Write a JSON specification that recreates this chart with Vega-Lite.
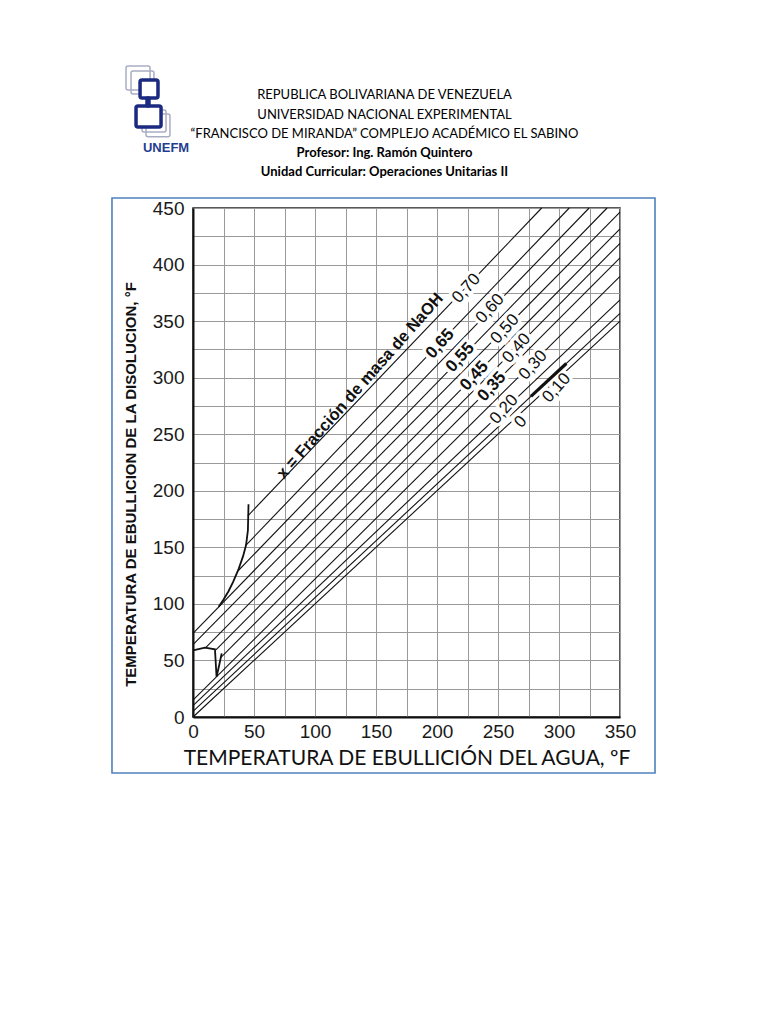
{
  "$schema": "https://vega.github.io/schema/vega-lite/v6.json",
  "width": 427,
  "height": 509,
  "autosize": {"type": "none"},
  "padding": {"left": 193, "top": 208, "right": 148, "bottom": 307},
  "background": "white",
  "config": {"view": {"stroke": "#222", "strokeWidth": 1.5}},
  "title": {
    "text": ["REPUBLICA BOLIVARIANA DE VENEZUELA", "UNIVERSIDAD NACIONAL  EXPERIMENTAL", "“FRANCISCO DE MIRANDA” COMPLEJO ACADÉMICO EL SABINO"],
    "subtitle": ["Profesor: Ing. Ramón Quintero", "Unidad Curricular: Operaciones Unitarias II"],
    "anchor": "middle",
    "frame": "group",
    "dx": -22,
    "offset": -114,
    "font": "Lato",
    "fontSize": 13,
    "fontWeight": "normal",
    "color": "#000",
    "lineHeight": 19.3,
    "subtitleFont": "Lato",
    "subtitleFontSize": 13,
    "subtitleFontWeight": "bold",
    "subtitleColor": "#000",
    "subtitleLineHeight": 19.3,
    "subtitlePadding": 6
  },
  "datasets": {
    "lineas": [
      {"serie": "0", "x": 0, "y": 0}, {"serie": "0", "x": 350, "y": 350},
      {"serie": "0,10", "x": 0, "y": 5}, {"serie": "0,10", "x": 350, "y": 356.8},
      {"serie": "0,20", "x": 0, "y": 10}, {"serie": "0,20", "x": 350, "y": 368.8},
      {"serie": "0,30", "x": 0, "y": 15}, {"serie": "0,30", "x": 350, "y": 389.5},
      {"serie": "0,35", "x": 22.7, "y": 52.5}, {"serie": "0,35", "x": 350, "y": 406},
      {"serie": "0,40", "x": 18.8, "y": 59.4}, {"serie": "0,40", "x": 350, "y": 418.8},
      {"serie": "0,45", "x": 10, "y": 60.9}, {"serie": "0,45", "x": 350, "y": 431.5},
      {"serie": "0,50", "x": 0, "y": 64}, {"serie": "0,50", "x": 350, "y": 446.3},
      {"serie": "0,55", "x": 0, "y": 74}, {"serie": "0,55", "x": 339.4, "y": 450},
      {"serie": "0,60", "x": 37, "y": 129.3}, {"serie": "0,60", "x": 324.7, "y": 450},
      {"serie": "0,65", "x": 43.5, "y": 152}, {"serie": "0,65", "x": 308.4, "y": 450},
      {"serie": "0,70", "x": 45, "y": 177.9}, {"serie": "0,70", "x": 285.8, "y": 450}
    ],
    "curvas": [
      {"curva": "superior", "x": 21, "y": 97.5},
      {"curva": "superior", "x": 24.8, "y": 103.4},
      {"curva": "superior", "x": 29, "y": 111},
      {"curva": "superior", "x": 33, "y": 119.6},
      {"curva": "superior", "x": 37.1, "y": 130},
      {"curva": "superior", "x": 41, "y": 142},
      {"curva": "superior", "x": 43.5, "y": 152},
      {"curva": "superior", "x": 45, "y": 165},
      {"curva": "superior", "x": 45.3, "y": 179},
      {"curva": "superior", "x": 45.5, "y": 188},
      {"curva": "inferior", "x": 0, "y": 59},
      {"curva": "inferior", "x": 9.8, "y": 61.3},
      {"curva": "inferior", "x": 18, "y": 59.9},
      {"curva": "inferior", "x": 23.5, "y": 56.3},
      {"curva": "inferior", "x": 21.5, "y": 46},
      {"curva": "inferior", "x": 19.3, "y": 35.6}
    ],
    "resaltado": [
      {"serie": "0,10", "x": 277, "y": 283.4},
      {"serie": "0,10", "x": 306, "y": 312.5}
    ],
    "etiquetas": [
      {"label": "0,70", "x": 224, "y": 379},
      {"label": "0,60", "x": 243.5, "y": 361},
      {"label": "0,50", "x": 255.7, "y": 343},
      {"label": "0,40", "x": 265.3, "y": 326},
      {"label": "0,30", "x": 278.7, "y": 311},
      {"label": "0,65", "x": 202.5, "y": 330},
      {"label": "0,55", "x": 219, "y": 318},
      {"label": "0,45", "x": 230.6, "y": 301.5},
      {"label": "0,35", "x": 245, "y": 292},
      {"label": "0,20", "x": 255, "y": 272},
      {"label": "0", "x": 268.6, "y": 261},
      {"label": "0,10", "x": 298, "y": 291}
    ],
    "leyenda": [
      {"label": "x = Fracción de masa de NaOH", "x": 136.9, "y": 292.7}
    ],
    "marco": [
      {"x": -66.4, "x2": 378.7, "y": 458.9, "y2": -49.5}
    ],
    "logo_gris": [
      {"x": -54.9, "x2": -35.2, "y": 575.6, "y2": 554.4},
      {"x": -50.8, "x2": -32.0, "y": 571.2, "y2": 550.8},
      {"x": -41.8, "x2": -22.1, "y": 536.7, "y2": 517.2},
      {"x": -38.5, "x2": -18.9, "y": 533.2, "y2": 512.9}
    ],
    "logo_azul": [
      {"x": -43.4, "x2": -28.7, "y": 563.2, "y2": 547.3},
      {"x": -46.7, "x2": -26.2, "y": 540.2, "y2": 521.7},
      {"x": -37.7, "x2": -36.1, "y": 547.3, "y2": 540.2}
    ],
    "logo": [
      {"label": "UNEFM", "x": -22.1, "y": 503}
    ]
  },
  "encoding": {
    "x": {
      "field": "x",
      "type": "quantitative",
      "scale": {"domain": [0, 350], "nice": false, "zero": false},
      "axis": {
        "values": [0, 25, 50, 75, 100, 125, 150, 175, 200, 225, 250, 275, 300, 325, 350],
        "labelExpr": "datum.value % 50 === 0 ? datum.label : ''",
        "labelFlush": false,
        "labelOverlap": false,
        "grid": true,
        "gridColor": "#999999",
        "gridWidth": 1,
        "ticks": false,
        "domainColor": "#111",
        "domainWidth": 2,
        "labelFont": "Liberation Sans",
        "labelFontSize": 19,
        "labelColor": "#1a1a1a",
        "labelPadding": 5,
        "title": "TEMPERATURA DE EBULLICIÓN DEL AGUA, ºF",
        "titleFont": "Lato",
        "titleFontSize": 21,
        "titleFontWeight": "normal",
        "titleColor": "#111",
        "titleY": 41,
        "titleBaseline": "middle"
      }
    },
    "y": {
      "field": "y",
      "type": "quantitative",
      "scale": {"domain": [0, 450], "nice": false, "zero": false},
      "axis": {
        "values": [0, 25, 50, 75, 100, 125, 150, 175, 200, 225, 250, 275, 300, 325, 350, 375, 400, 425, 450],
        "labelExpr": "datum.value % 50 === 0 ? datum.label : ''",
        "labelOverlap": false,
        "labelFlush": false,
        "grid": true,
        "gridColor": "#999999",
        "gridWidth": 1,
        "ticks": false,
        "domainColor": "#111",
        "domainWidth": 2,
        "labelFont": "Liberation Sans",
        "labelFontSize": 19,
        "labelColor": "#1a1a1a",
        "labelPadding": 9,
        "title": "TEMPERATURA DE EBULLICION DE LA DISOLUCION, °F",
        "titleFont": "Liberation Sans",
        "titleFontSize": 15,
        "titleFontWeight": "bold",
        "titleColor": "#111",
        "titleX": -63,
        "titleY": 276,
        "titleBaseline": "middle",
        "titleAlign": "center"
      }
    }
  },
  "layer": [
    {
      "data": {"name": "marco"},
      "mark": {"type": "rect", "fillOpacity": 0, "stroke": "#4f81bd", "strokeWidth": 1.6},
      "encoding": {"x2": {"field": "x2"}, "y2": {"field": "y2"}}
    },
    {
      "data": {"name": "logo_gris"},
      "mark": {"type": "rect", "fillOpacity": 0, "stroke": "#a9adc4", "strokeWidth": 1.5, "cornerRadius": 2},
      "encoding": {"x2": {"field": "x2"}, "y2": {"field": "y2"}}
    },
    {
      "data": {"name": "logo_azul"},
      "mark": {"type": "rect", "fill": "white", "stroke": "#1b2a80", "strokeWidth": 3.5, "cornerRadius": 2},
      "encoding": {"x2": {"field": "x2"}, "y2": {"field": "y2"}}
    },
    {
      "data": {"name": "lineas"},
      "mark": {"type": "line", "color": "#111", "strokeWidth": 1.1},
      "encoding": {"detail": {"field": "serie"}}
    },
    {
      "data": {"name": "curvas"},
      "mark": {"type": "line", "color": "#111", "strokeWidth": 1.8},
      "encoding": {"detail": {"field": "curva"}, "order": {"value": 0}}
    },
    {
      "data": {"name": "etiquetas"},
      "mark": {"type": "text", "font": "Liberation Sans", "fontSize": 17, "angle": -48, "stroke": "white", "strokeWidth": 7, "fill": "white", "align": "center", "baseline": "middle"},
      "encoding": {"text": {"field": "label"}}
    },
    {
      "data": {"name": "resaltado"},
      "mark": {"type": "line", "color": "#111", "strokeWidth": 3.2},
      "encoding": {"detail": {"field": "serie"}}
    },
    {
      "data": {"name": "etiquetas"},
      "transform": [{"filter": "indexof(['0,65','0,55','0,45','0,35'], datum.label) < 0"}],
      "mark": {"type": "text", "font": "Liberation Sans", "fontSize": 17, "angle": -48, "color": "#111", "align": "center", "baseline": "middle"},
      "encoding": {"text": {"field": "label"}}
    },
    {
      "data": {"name": "etiquetas"},
      "transform": [{"filter": "indexof(['0,65','0,55','0,45','0,35'], datum.label) >= 0"}],
      "mark": {"type": "text", "font": "Liberation Sans", "fontSize": 17, "fontWeight": "bold", "angle": -48, "color": "#111", "align": "center", "baseline": "middle"},
      "encoding": {"text": {"field": "label"}}
    },
    {
      "data": {"name": "leyenda"},
      "mark": {"type": "text", "font": "Liberation Sans", "fontSize": 16.5, "fontWeight": "bold", "angle": -48.5, "color": "#111", "align": "center", "baseline": "middle"},
      "encoding": {"text": {"field": "label"}}
    },
    {
      "data": {"name": "logo"},
      "mark": {"type": "text", "font": "Liberation Sans", "fontSize": 13, "fontWeight": "bold", "color": "#1f3d8f", "align": "center", "baseline": "middle"},
      "encoding": {"text": {"field": "label"}}
    }
  ]
}
